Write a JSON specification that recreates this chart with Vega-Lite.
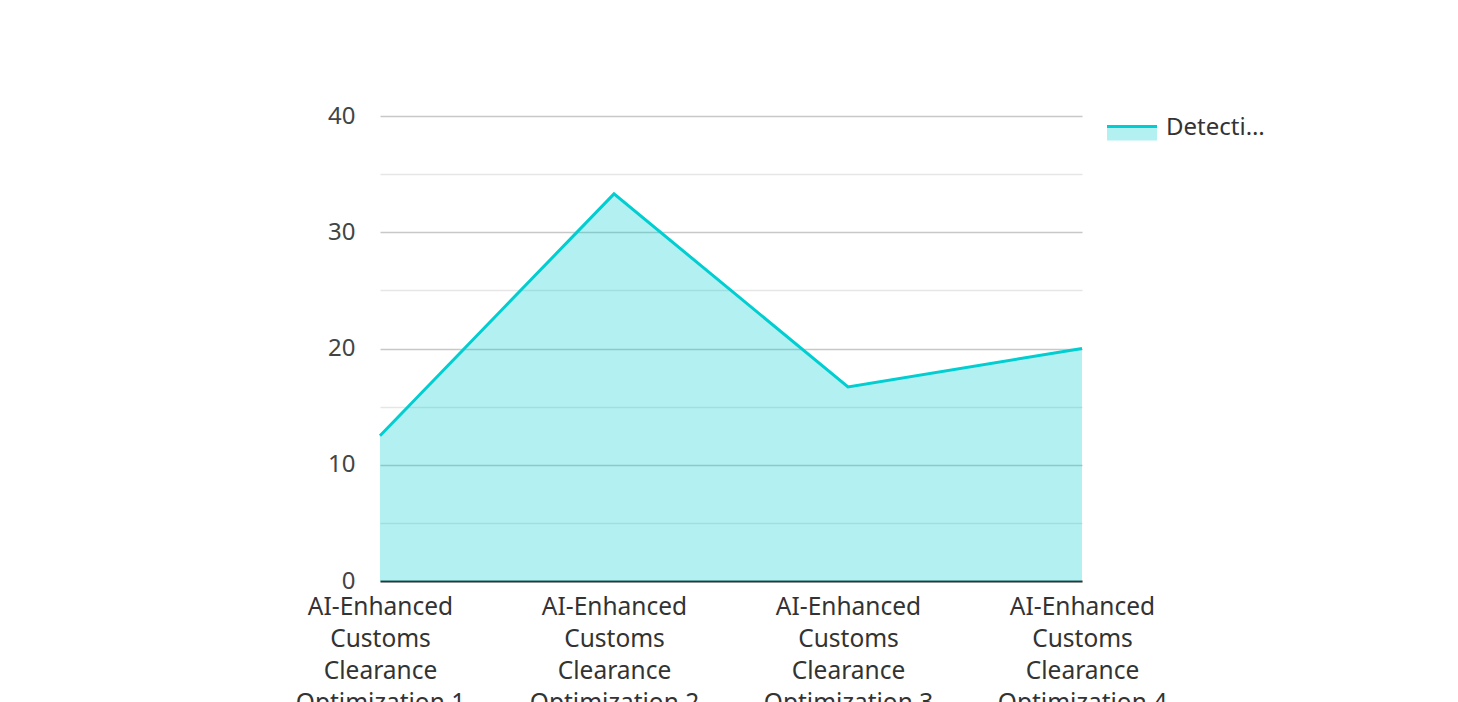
{
  "$schema": "https://vega.github.io/schema/vega-lite/v6.json",
  "width": 702,
  "height": 465,
  "autosize": {"type": "none"},
  "padding": {"left": 380, "top": 116, "right": 376, "bottom": 121},
  "background": "white",
  "config": {"font": "Noto Sans", "view": {"stroke": null}},
  "data": {
    "values": [
      {"label": "AI-Enhanced Customs Clearance Optimization 1", "value": 12.5, "series": "Detection Rate (%)"},
      {"label": "AI-Enhanced Customs Clearance Optimization 2", "value": 33.3, "series": "Detection Rate (%)"},
      {"label": "AI-Enhanced Customs Clearance Optimization 3", "value": 16.7, "series": "Detection Rate (%)"},
      {"label": "AI-Enhanced Customs Clearance Optimization 4", "value": 20, "series": "Detection Rate (%)"}
    ]
  },
  "encoding": {
    "x": {
      "field": "label",
      "type": "ordinal",
      "sort": null,
      "scale": {"type": "point", "padding": 0},
      "axis": {
        "title": null,
        "labelAngle": 0,
        "labelExpr": "split(replace(replace(replace(datum.label,'AI-Enhanced ','AI-Enhanced|'),'Customs ','Customs|'),'Clearance ','Clearance|'),'|')",
        "labelFontSize": 24.5,
        "labelLineHeight": 32,
        "labelColor": "#333333",
        "labelPadding": 14,
        "labelLimit": 0,
        "ticks": false,
        "grid": false,
        "domainColor": "#333333",
        "domainWidth": 2
      }
    },
    "y": {
      "field": "value",
      "type": "quantitative",
      "scale": {"domain": [0, 40], "nice": false},
      "axis": {
        "title": null,
        "values": [0, 5, 10, 15, 20, 25, 30, 35, 40],
        "labelExpr": "datum.value % 10 === 0 ? datum.label : ''",
        "labelFontSize": 24,
        "labelColor": "#444444",
        "labelPadding": 25,
        "ticks": false,
        "domain": false,
        "grid": true,
        "gridColor": {"condition": {"test": "datum.value % 10 === 0", "value": "#c8c8c8"}, "value": "#e6e6e6"},
        "gridWidth": 1.5
      }
    }
  },
  "layer": [
    {
      "mark": {"type": "area", "fill": "#00CED1", "fillOpacity": 0.3},
      "encoding": {}
    },
    {
      "mark": {"type": "line", "strokeWidth": 3},
      "encoding": {
        "stroke": {
          "field": "series",
          "type": "nominal",
          "scale": {"range": ["#00CED1"]},
          "legend": {
            "title": null,
            "orient": "right",
            "offset": 32,
            "padding": 0,
            "labelFontSize": 24,
            "labelColor": "#333333",
            "labelLimit": 105,
            "labelOffset": 22,
            "symbolType": "M-2.5,-0.15H2.5V1.25H-2.5Z",
            "symbolSize": 400,
            "symbolStrokeWidth": 3,
            "symbolDash": [50, 1000],
            "symbolFillColor": "#b2f0f1",
            "symbolOpacity": 1,
            "encode": {
              "symbols": {
                "update": {
                  "fill": {"value": "#b2f0f1"},
                  "strokeDash": {"value": [50, 1000]}
                }
              }
            }
          }
        }
      }
    }
  ]
}
